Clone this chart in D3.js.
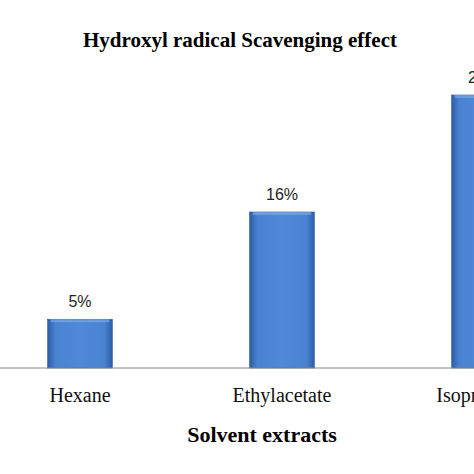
<!DOCTYPE html><html><head><meta charset="utf-8">
<script src="https://cdn.jsdelivr.net/npm/d3@7"></script>
<style>body{margin:0;background:#fff}</style></head><body>
<svg id="c" width="474" height="474"></svg>
<script>
const categories=["Hexane","Ethylacetate","Isopropanol"];
const values=[5,16,28];
const labels=["5%","16%","28%"];
const svg=d3.select("#c");
const defs=svg.append("defs");
const g=defs.append("linearGradient").attr("id","bg").attr("x1","0").attr("x2","1");
[[0,"#2c5da6"],[0.12,"#4a82d2"],[0.5,"#5089d8"],[0.88,"#4a82d2"],[1,"#2c5da6"]].forEach(s=>g.append("stop").attr("offset",s[0]).attr("stop-color",s[1]));
const baseY=368;
const x=d3.scaleBand().domain(categories).range([-21,585]).paddingInner(0.68).paddingOuter(0.34);
const y=d3.scaleLinear().domain([0,28]).range([baseY,95]);
svg.append("text").attr("x",240).attr("y",47).attr("text-anchor","middle").attr("font-family","Liberation Serif").attr("font-weight","bold").attr("font-size",21).text("Hydroxyl radical Scavenging effect");
svg.selectAll("rect.b").data(values).join("rect").attr("class","b").attr("x",(d,i)=>x(categories[i])).attr("width",x.bandwidth()).attr("y",d=>y(d)).attr("height",d=>baseY-y(d)).attr("fill","url(#bg)").attr("stroke","#2a5595").attr("stroke-width",0.6);
svg.selectAll("rect.t").data(values).join("rect").attr("class","t").attr("x",(d,i)=>x(categories[i])+3).attr("width",x.bandwidth()-6).attr("y",d=>y(d)).attr("height",3).attr("fill","#7aa6e6").attr("opacity",0.7);
svg.selectAll("text.v").data(values).join("text").attr("class","v").attr("x",(d,i)=>x(categories[i])+x.bandwidth()/2).attr("y",d=>y(d)-12).attr("text-anchor","middle").attr("font-family","Liberation Sans").attr("font-size",16).attr("fill","#222").text((d,i)=>labels[i]);
const ax=svg.append("g").attr("transform",`translate(0,${baseY})`).call(d3.axisBottom(x).tickSize(0).tickPadding(20));
ax.select(".domain").attr("stroke","#888").attr("d","M0,0H474");
ax.selectAll("text").attr("font-family","Liberation Serif").attr("font-size",20).attr("fill","#111");
svg.append("text").attr("x",262).attr("y",442).attr("text-anchor","middle").attr("font-family","Liberation Serif").attr("font-weight","bold").attr("font-size",22).text("Solvent extracts");
</script></body></html>
